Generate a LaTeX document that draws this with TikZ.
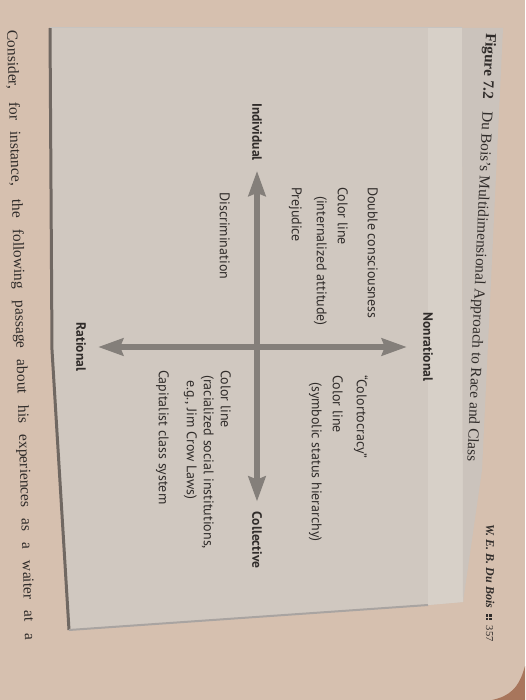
\documentclass[tikz,border=0pt]{standalone}
\usepackage{fontspec}
\setmainfont{Liberation Serif}
\setsansfont{PT Sans}
\usepackage{xcolor}
\usepackage{tikz}
\usetikzlibrary{arrows.meta}

\definecolor{pagebeige}{RGB}{214,192,175}
\definecolor{boxgray}{RGB}{208,200,192}
\definecolor{stripgray}{RGB}{215,208,200}
\definecolor{bandgray}{RGB}{203,195,188}
\definecolor{arrowgray}{RGB}{132,127,122}
\definecolor{shadowgray}{RGB}{112,104,98}
\definecolor{deskbrown}{RGB}{168,118,92}
\definecolor{inkgray}{RGB}{48,44,42}

% small square mark of the running head
\newcommand{\pgrow}{\rule{2.4pt}{2.4pt}\hspace{0.8pt}\rule{2.4pt}{2.4pt}}
\newcommand{\pgmark}{\mbox{\pgrow}\llap{\raisebox{3.2pt}{\pgrow}}}

\tikzset{
  axislbl/.style={font=\sffamily\bfseries\fontsize{13.5}{15}\selectfont, rotate=-90, inner sep=2pt, text=inkgray},
  quadtxt/.style={font=\sffamily\fontsize{14}{19}\selectfont, rotate=-90, anchor=north west, align=left, inner sep=0pt, text=inkgray},
  axisarrow/.style={draw=arrowgray, line width=6pt, {Stealth[length=25pt,width=17pt,inset=3pt]}-{Stealth[length=25pt,width=17pt,inset=3pt]}},
}

\begin{document}
\begin{tikzpicture}[x=1pt,y=1pt,yscale=-1]
  \useasboundingbox (0,0) rectangle (525,700);

  %Shape: page and desk corner
  \fill[pagebeige] (0,0) rectangle (525,700);
  \fill[deskbrown] (525,666) .. controls (519,688) and (510,696) .. (492,700) -- (525,700) -- cycle;

  %Shape: figure box
  \fill[boxgray] (50,28) -- (462,28) -- (463,602) -- (428,605) -- (69,630) -- (52,350) -- cycle;
  \fill[stripgray] (428,28) -- (462,28) -- (463,602) -- (428,605) -- cycle;
  \fill[bandgray] (462,28) -- (503,28) -- (482,470) -- (463,602) -- cycle;
  %Straight Lines: shadows of the box
  \draw[shadowgray, line width=3pt] (50,28) -- (52,350) -- (69,630);
  \draw[shadowgray!60, line width=2pt] (69,630) -- (428,605);
  \draw[shadowgray!40, line width=1pt] (50,28) -- (462,28);

  % Text Node: caption
  \draw (486,33) node (ttl) [anchor=base west, rotate=-92.5, font=\fontsize{15.3}{17}\selectfont, text=inkgray, inner sep=0pt] {\textbf{Figure 7.2}\hspace{12pt}Du Bois’s Multidimensional Approach to Race and Class};
  % Text Node: running head
  \draw (486,524) node (hdr) [anchor=base west, rotate=-90, font=\fontsize{12}{14}\selectfont, text=inkgray, inner sep=0pt] {\textbf{\textit{W. E. B. Du Bois}}\hspace{6pt}\pgmark\hspace{6pt}{\fontsize{10.5}{12}\selectfont 357}};
  % Text Node: body line
  \draw (7,30) node (body) [anchor=base west, rotate=-88.3, font=\fontsize{15.5}{17}\selectfont, text=inkgray, inner sep=0pt] {\makebox[610pt][s]{Consider, for instance, the following passage about his experiences as a waiter at a}};

  % Text Node: axis labels
  \draw (257,132) node (ind) [axislbl] {Individual};
  \draw (257,540) node (col) [axislbl] {Collective};
  \draw (428,347) node (non) [axislbl] {Nonrational};
  \draw (81,347) node (rat) [axislbl] {Rational};

  %Straight Lines: axes
  \draw[axisarrow, shorten <=8pt, shorten >=8pt] (ind) -- (col);
  \draw[axisarrow, shorten <=10pt, shorten >=14pt] (rat) -- (non);

  % Text Node: quadrants
  \draw (378,187) node (dblc) [quadtxt] {Double consciousness\\[11pt]Color line\\[2pt]\hspace*{9pt}(internalized attitude)\\[6pt]Prejudice};
  \draw (368,375) node (colr) [quadtxt] {“Colortocracy”\\[5pt]Color line\\[2pt]\hspace*{7pt}(symbolic status hierarchy)};
  \draw (230,192) node (disc) [quadtxt] {Discrimination};
  \draw (231,370) node (clns) [quadtxt] {Color line\\[-2pt]\hspace*{5pt}(racialized social institutions,\\[-2pt]\hspace*{10pt}e.g., Jim Crow Laws)\\[9pt]Capitalist class system};

\end{tikzpicture}
\end{document}
